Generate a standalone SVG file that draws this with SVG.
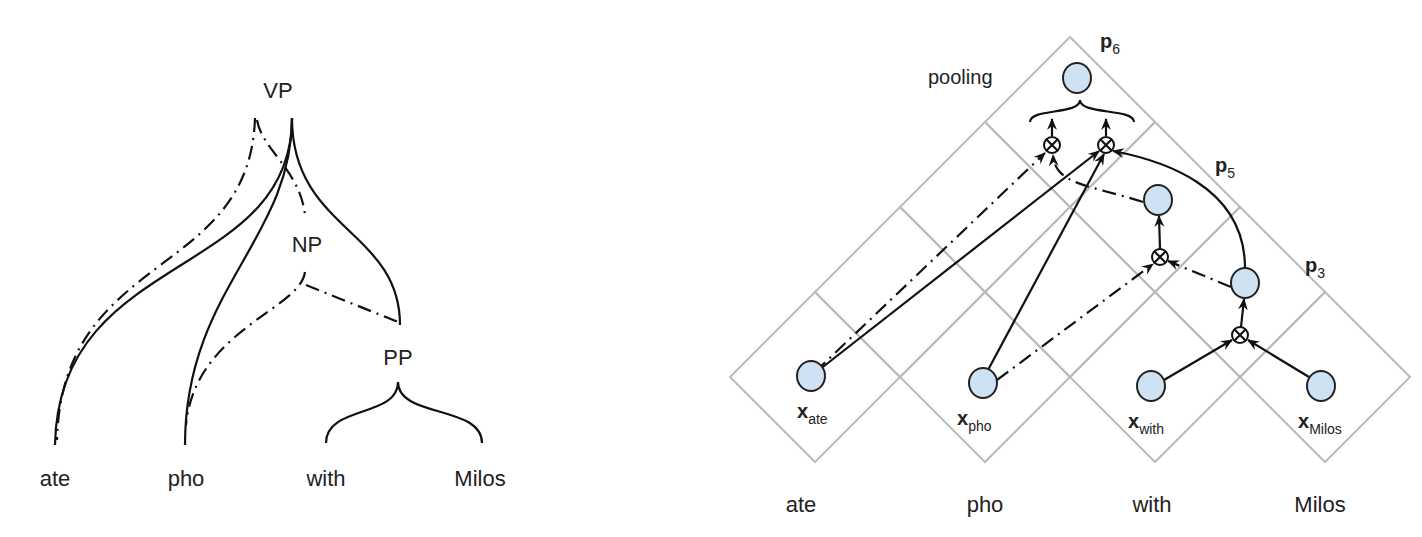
<svg xmlns="http://www.w3.org/2000/svg" width="1422" height="537" viewBox="0 0 1422 537">
<defs>
<style>
text{font-family:"Liberation Sans",Arial,sans-serif;fill:#222}
.w{font-size:22px;text-anchor:middle}
.cell{fill:none;stroke:#bbb;stroke-width:2}
.n{fill:#cfe2f3;stroke:#222;stroke-width:2}
.e{fill:none;stroke:#111;stroke-width:2.2}
.dd{stroke-dasharray:14 6 2 6}
.ot{fill:#fff;stroke:#111;stroke-width:2}
</style>
<marker id="ah" viewBox="0 0 12 10" refX="11" refY="5" markerWidth="12" markerHeight="10" markerUnits="userSpaceOnUse" orient="auto">
<path d="M0,0 L12,5 L0,10 L4,5 Z" fill="#111"/>
</marker>
</defs>
<rect width="1422" height="537" fill="#fff"/>
<g id="left-tree">
<text class="w" x="278" y="98">VP</text>
<text class="w" x="307" y="252">NP</text>
<text class="w" x="398" y="365">PP</text>
<text class="w" x="55" y="486">ate</text>
<text class="w" x="186" y="486">pho</text>
<text class="w" x="326" y="486">with</text>
<text class="w" x="480" y="486">Milos</text>
</g>
<g id="left-edges">
<path class="e" d="M292,118 C292,280 58,250 55,445"/>
<path class="e" d="M292,118 C292,240 185,290 185,445"/>
<path class="e" d="M292,118 C292,230 400,230 400,325"/>
<path class="e dd" d="M255,118 C250,280 62,250 57,440"/>
<path class="e dd" d="M257,120 C262,150 300,170 305,215"/>
<path class="e dd" d="M305,272 C300,310 195,330 186,425"/>
<path class="e dd" d="M306,285 L398,322"/>
<path class="e" d="M326,443 C326,405 398,418 398,382 C398,418 482,405 482,443"/>
</g>
<g id="grid">
<polygon class="cell" points="815,292 900,377 815,462 730,377"/>
<polygon class="cell" points="985,292 1070,377 985,462 900,377"/>
<polygon class="cell" points="1155,292 1240,377 1155,462 1070,377"/>
<polygon class="cell" points="1325,292 1410,377 1325,462 1240,377"/>
<polygon class="cell" points="900,207 985,292 900,377 815,292"/>
<polygon class="cell" points="1070,207 1155,292 1070,377 985,292"/>
<polygon class="cell" points="1240,207 1325,292 1240,377 1155,292"/>
<polygon class="cell" points="985,122 1070,207 985,292 900,207"/>
<polygon class="cell" points="1155,122 1240,207 1155,292 1070,207"/>
<polygon class="cell" points="1070,37 1155,122 1070,207 985,122"/>
</g>
<g id="connectors">
<path class="e dd" d="M815,372 L1045,153" marker-end="url(#ah)"/>
<path class="e" d="M819,370 L1099,151" marker-end="url(#ah)"/>
<path class="e" d="M988,370 L1104,154" marker-end="url(#ah)"/>
<path class="e dd" d="M997,380 L1153,264" marker-end="url(#ah)"/>
<path class="e dd" d="M1143,202 C1090,185 1055,185 1053,155" marker-end="url(#ah)"/>
<path class="e" d="M1245,268 C1245,185 1160,160 1113,151" marker-end="url(#ah)"/>
<path class="e dd" d="M1231,287 L1168,261" marker-end="url(#ah)"/>
<path class="e" d="M1160,249 L1159,216" marker-end="url(#ah)"/>
<path class="e" d="M1241,327 L1244,299" marker-end="url(#ah)"/>
<path class="e" d="M1164,380 L1232,340" marker-end="url(#ah)"/>
<path class="e" d="M1309,377 L1248,340" marker-end="url(#ah)"/>
<path class="e" d="M1052,136 L1052,119" marker-end="url(#ah)"/>
<path class="e" d="M1106,136 L1106,119" marker-end="url(#ah)"/>
<path class="e" d="M1030,122 C1030,108 1080,115 1080,100 C1080,115 1134,108 1134,122"/>
</g>
<g id="ot1"><circle class="ot" cx="1052" cy="145" r="8"/><path class="e" d="M1046,139 L1058,151 M1058,139 L1046,151" stroke-width="1.6"/></g>
<g id="ot2"><circle class="ot" cx="1106" cy="145" r="8"/><path class="e" d="M1100,139 L1112,151 M1112,139 L1100,151" stroke-width="1.6"/></g>
<g id="ot3"><circle class="ot" cx="1160" cy="257" r="8"/><path class="e" d="M1154,251 L1166,263 M1166,251 L1154,263" stroke-width="1.6"/></g>
<g id="ot4"><circle class="ot" cx="1240" cy="335" r="8"/><path class="e" d="M1234,329 L1246,341 M1246,329 L1234,341" stroke-width="1.6"/></g>
<g id="x_ate"><ellipse class="n" cx="811" cy="376" rx="14" ry="15"/></g>
<g id="x_pho"><ellipse class="n" cx="983" cy="383" rx="14" ry="15"/></g>
<g id="x_with"><ellipse class="n" cx="1151" cy="386" rx="14" ry="15"/></g>
<g id="x_Milos"><ellipse class="n" cx="1321" cy="386" rx="14" ry="15"/></g>
<g id="p3"><ellipse class="n" cx="1245" cy="283" rx="14" ry="15"/></g>
<g id="p5"><ellipse class="n" cx="1158" cy="200" rx="14" ry="15"/></g>
<g id="p6"><ellipse class="n" cx="1077" cy="78" rx="14" ry="15"/></g>
<g id="labels">
<text x="928" y="84" font-size="20">pooling</text>
<text x="1100" y="48" font-size="20" font-weight="bold">p<tspan font-size="14" font-weight="normal" dy="6">6</tspan></text>
<text x="1215" y="172" font-size="20" font-weight="bold">p<tspan font-size="14" font-weight="normal" dy="6">5</tspan></text>
<text x="1305" y="272" font-size="20" font-weight="bold">p<tspan font-size="14" font-weight="normal" dy="6">3</tspan></text>
<text x="797" y="418" font-size="20" font-weight="bold">x<tspan font-size="14" font-weight="normal" dy="6">ate</tspan></text>
<text x="957" y="425" font-size="20" font-weight="bold">x<tspan font-size="14" font-weight="normal" dy="6">pho</tspan></text>
<text x="1128" y="428" font-size="20" font-weight="bold">x<tspan font-size="14" font-weight="normal" dy="6">with</tspan></text>
<text x="1298" y="428" font-size="20" font-weight="bold">x<tspan font-size="14" font-weight="normal" dy="6">Milos</tspan></text>
<text class="w" x="801" y="512">ate</text>
<text class="w" x="985" y="512">pho</text>
<text class="w" x="1152" y="512">with</text>
<text class="w" x="1320" y="512">Milos</text>
</g>
</svg>
